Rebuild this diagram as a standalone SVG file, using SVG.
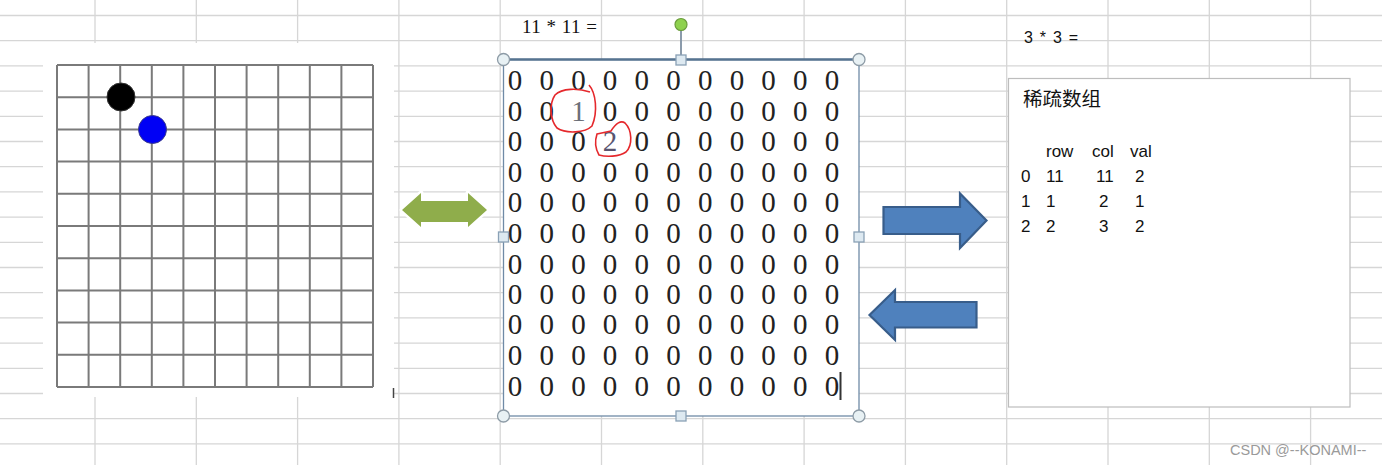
<svg xmlns="http://www.w3.org/2000/svg" width="1382" height="465" viewBox="0 0 1382 465">
<style>
.gl{stroke:#d6d6d6;stroke-width:1.3;fill:none}
.bl{stroke:#7a7a7a;stroke-width:2;fill:none}
.z{font-family:"Liberation Serif",serif;font-size:29px;fill:#222;text-anchor:middle}
.t{font-family:"Liberation Sans",sans-serif;font-size:17px;fill:#111}
.hc{fill:#e8f1f4;stroke:#8d9ba6;stroke-width:1.3}
.hs{fill:#dde9f1;stroke:#8aa1b6;stroke-width:1.3}
.ba{fill:#4f81bd;stroke:#385d8a;stroke-width:2.2;stroke-linejoin:miter}
.red{fill:none;stroke:#e5282c;stroke-width:1.6}
</style>
<rect width="1382" height="465" fill="#ffffff"/>
<g id="sheet-grid">
<path class="gl" d="M0 15.5H1382M0 40.7H1382M0 65.9H1382M0 91.1H1382M0 116.3H1382M0 141.5H1382M0 166.7H1382M0 191.9H1382M0 217.1H1382M0 242.3H1382M0 267.5H1382M0 292.7H1382M0 317.9H1382M0 343.1H1382M0 368.3H1382M0 393.5H1382M0 418.7H1382M0 443.9H1382"/>
<path class="gl" d="M95 0V465M196.3 0V465M297.6 0V465M398.9 0V465M500.2 0V465M601.5 0V465M702.8 0V465M804.1 0V465M905.4 0V465M1006.7 0V465M1108 0V465M1209.3 0V465M1310.6 0V465"/>
</g>
<g id="board">
<rect x="43" y="43" width="351" height="354" fill="#ffffff"/>
<path class="bl" d="M57 65V387M88.6 65V387M120.2 65V387M151.8 65V387M183.4 65V387M215 65V387M246.6 65V387M278.2 65V387M309.8 65V387M341.4 65V387M373 65V387"/>
<path class="bl" d="M57 65H373M57 97.2H373M57 129.4H373M57 161.6H373M57 193.8H373M57 226H373M57 258.2H373M57 290.4H373M57 322.6H373M57 354.8H373M57 387H373"/>
<circle cx="121" cy="97" r="14" fill="#000000" stroke="#333" stroke-width="1"/>
<circle cx="152.5" cy="129.5" r="14" fill="#0000f5" stroke="#3a3a8a" stroke-width="1"/>
<line x1="393.5" y1="388" x2="393.5" y2="398" stroke="#444" stroke-width="1.5"/>
</g>
<g id="matrix">
<text x="522" y="33" font-family="'Liberation Serif',serif" font-size="19" fill="#111" textLength="75">11 * 11 =</text>
<rect x="503.5" y="59.5" width="355.5" height="356.5" fill="#ffffff" stroke="#6f8aa6" stroke-width="1.3"/>
<line x1="503.5" y1="59.5" x2="859" y2="59.5" stroke="#567390" stroke-width="2.5"/>
<g id="zeros">
<text class="z" y="90"><tspan x="515">0</tspan><tspan x="546.7">0</tspan><tspan x="578.4">0</tspan><tspan x="610.1">0</tspan><tspan x="641.8">0</tspan><tspan x="673.5">0</tspan><tspan x="705.2">0</tspan><tspan x="736.9">0</tspan><tspan x="768.6">0</tspan><tspan x="800.3">0</tspan><tspan x="832">0</tspan></text>
<text class="z" y="120.5"><tspan x="515">0</tspan><tspan x="546.7">0</tspan><tspan x="578.4" fill="#6b6f78">1</tspan><tspan x="610.1">0</tspan><tspan x="641.8">0</tspan><tspan x="673.5">0</tspan><tspan x="705.2">0</tspan><tspan x="736.9">0</tspan><tspan x="768.6">0</tspan><tspan x="800.3">0</tspan><tspan x="832">0</tspan></text>
<text class="z" y="151"><tspan x="515">0</tspan><tspan x="546.7">0</tspan><tspan x="578.4">0</tspan><tspan x="610.1" fill="#5a5570">2</tspan><tspan x="641.8">0</tspan><tspan x="673.5">0</tspan><tspan x="705.2">0</tspan><tspan x="736.9">0</tspan><tspan x="768.6">0</tspan><tspan x="800.3">0</tspan><tspan x="832">0</tspan></text>
<text class="z" y="181.5"><tspan x="515">0</tspan><tspan x="546.7">0</tspan><tspan x="578.4">0</tspan><tspan x="610.1">0</tspan><tspan x="641.8">0</tspan><tspan x="673.5">0</tspan><tspan x="705.2">0</tspan><tspan x="736.9">0</tspan><tspan x="768.6">0</tspan><tspan x="800.3">0</tspan><tspan x="832">0</tspan></text>
<text class="z" y="212"><tspan x="515">0</tspan><tspan x="546.7">0</tspan><tspan x="578.4">0</tspan><tspan x="610.1">0</tspan><tspan x="641.8">0</tspan><tspan x="673.5">0</tspan><tspan x="705.2">0</tspan><tspan x="736.9">0</tspan><tspan x="768.6">0</tspan><tspan x="800.3">0</tspan><tspan x="832">0</tspan></text>
<text class="z" y="243"><tspan x="515">0</tspan><tspan x="546.7">0</tspan><tspan x="578.4">0</tspan><tspan x="610.1">0</tspan><tspan x="641.8">0</tspan><tspan x="673.5">0</tspan><tspan x="705.2">0</tspan><tspan x="736.9">0</tspan><tspan x="768.6">0</tspan><tspan x="800.3">0</tspan><tspan x="832">0</tspan></text>
<text class="z" y="273.5"><tspan x="515">0</tspan><tspan x="546.7">0</tspan><tspan x="578.4">0</tspan><tspan x="610.1">0</tspan><tspan x="641.8">0</tspan><tspan x="673.5">0</tspan><tspan x="705.2">0</tspan><tspan x="736.9">0</tspan><tspan x="768.6">0</tspan><tspan x="800.3">0</tspan><tspan x="832">0</tspan></text>
<text class="z" y="303.5"><tspan x="515">0</tspan><tspan x="546.7">0</tspan><tspan x="578.4">0</tspan><tspan x="610.1">0</tspan><tspan x="641.8">0</tspan><tspan x="673.5">0</tspan><tspan x="705.2">0</tspan><tspan x="736.9">0</tspan><tspan x="768.6">0</tspan><tspan x="800.3">0</tspan><tspan x="832">0</tspan></text>
<text class="z" y="334"><tspan x="515">0</tspan><tspan x="546.7">0</tspan><tspan x="578.4">0</tspan><tspan x="610.1">0</tspan><tspan x="641.8">0</tspan><tspan x="673.5">0</tspan><tspan x="705.2">0</tspan><tspan x="736.9">0</tspan><tspan x="768.6">0</tspan><tspan x="800.3">0</tspan><tspan x="832">0</tspan></text>
<text class="z" y="365"><tspan x="515">0</tspan><tspan x="546.7">0</tspan><tspan x="578.4">0</tspan><tspan x="610.1">0</tspan><tspan x="641.8">0</tspan><tspan x="673.5">0</tspan><tspan x="705.2">0</tspan><tspan x="736.9">0</tspan><tspan x="768.6">0</tspan><tspan x="800.3">0</tspan><tspan x="832">0</tspan></text>
<text class="z" y="395.5"><tspan x="515">0</tspan><tspan x="546.7">0</tspan><tspan x="578.4">0</tspan><tspan x="610.1">0</tspan><tspan x="641.8">0</tspan><tspan x="673.5">0</tspan><tspan x="705.2">0</tspan><tspan x="736.9">0</tspan><tspan x="768.6">0</tspan><tspan x="800.3">0</tspan><tspan x="832">0</tspan></text>
</g>
<line x1="840.5" y1="372" x2="840.5" y2="400" stroke="#333" stroke-width="2"/>
<path class="red" d="M589 85C596 93 598 112 592 126C585 133 566 134 557 128C550 120 549 104 555 95C562 88 578 88 590 92"/>
<path class="red" d="M597 134L611 131C616 123 621 120 625 123C632 130 633 145 626 152C619 157 606 157 599 155C595 148 595 140 597 134Z"/>
<line x1="681" y1="30" x2="681" y2="55" stroke="#8b9bab" stroke-width="2"/>
<circle cx="681" cy="24.5" r="6" fill="#8ed14e" stroke="#6b9c3c" stroke-width="1.2"/>
<circle class="hc" cx="503.5" cy="59.5" r="6"/>
<circle class="hc" cx="859" cy="59.5" r="6"/>
<circle class="hc" cx="503.5" cy="416" r="6"/>
<circle class="hc" cx="859" cy="416" r="6"/>
<rect class="hs" x="676" y="55" width="10" height="10"/>
<rect class="hs" x="676" y="411" width="10" height="10"/>
<rect class="hs" x="498.5" y="232" width="10" height="10"/>
<rect class="hs" x="854" y="232" width="10" height="10"/>
</g>
<g id="sparse-array">
<text x="1024" y="43" font-family="'Liberation Sans',sans-serif" font-size="16" fill="#111" textLength="54">3 * 3 =</text>
<rect x="1008.5" y="78.5" width="341.5" height="328.5" fill="#ffffff" stroke="#bdbdbd" stroke-width="1.2"/>
<text x="1023" y="106" font-family="'Noto Sans CJK SC',sans-serif" font-size="19.5" fill="#111">稀疏数组</text>
<text class="t" y="157"><tspan x="1046">row</tspan><tspan x="1092">col</tspan><tspan x="1130">val</tspan></text>
<text class="t" y="182"><tspan x="1021">0</tspan><tspan x="1046">11</tspan><tspan x="1096">11</tspan><tspan x="1135">2</tspan></text>
<text class="t" y="207"><tspan x="1021">1</tspan><tspan x="1046">1</tspan><tspan x="1099">2</tspan><tspan x="1135">1</tspan></text>
<text class="t" y="232"><tspan x="1021">2</tspan><tspan x="1046">2</tspan><tspan x="1099">3</tspan><tspan x="1135">2</tspan></text>
</g>
<g id="connectors">
<path d="M402 210L421 193L421 201L468 201L468 193L487 210L468 227L468 222L421 222L421 227Z" fill="#8fad4b" stroke="#ffffff" stroke-width="5" stroke-linejoin="round" paint-order="stroke"/>
<path class="ba" d="M883.5 207L960 207L960 193.5L986.5 220.5L960 248L960 234L883.5 234Z"/>
<path class="ba" d="M976.5 302L895 302L895 290L869.5 315L895 340L895 327.5L976.5 327.5Z"/>
</g>
<text x="1230" y="455" font-family="'Liberation Sans',sans-serif" font-size="14.5" fill="#9a9a9a">CSDN @--KONAMI--</text>
</svg>
